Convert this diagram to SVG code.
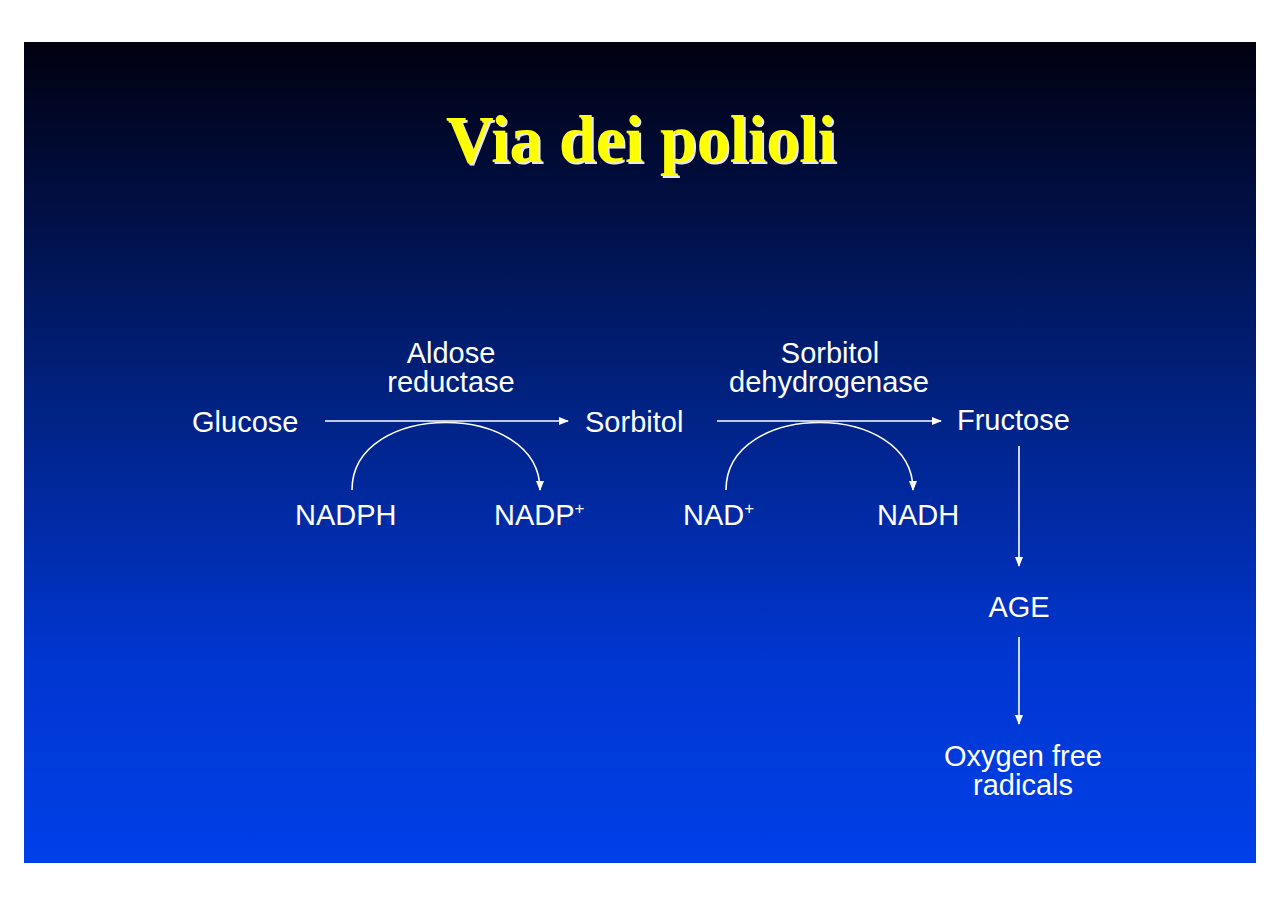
<svg xmlns="http://www.w3.org/2000/svg" width="1280" height="905" viewBox="0 0 1280 905">
<defs>
<linearGradient id="bg" x1="0" y1="0" x2="0" y2="1">
<stop offset="0" stop-color="#000010"/>
<stop offset="0.4" stop-color="#001f78"/>
<stop offset="0.75" stop-color="#0036d0"/>
<stop offset="1" stop-color="#0040e8"/>
</linearGradient>
<marker id="ah" markerWidth="10" markerHeight="8" refX="9" refY="4" orient="auto" markerUnits="userSpaceOnUse">
<path d="M0,0 L10,4 L0,8 Z" fill="#fff"/>
</marker>
<style>
.t{font-family:"Liberation Sans",Arial,sans-serif;font-size:29px;fill:#fff}
.c{text-anchor:middle}
.ln{stroke:#fff;stroke-width:1.6;fill:none;marker-end:url(#ah)}
.ti{font-family:"Liberation Serif","Times New Roman",serif;font-weight:bold;font-size:68px;text-anchor:middle}
</style>
</defs>
<rect width="1280" height="905" fill="#fff"/>
<rect x="24" y="42" width="1232" height="821" fill="url(#bg)"/>
<g id="title">
<text class="ti" x="643" y="164" fill="#e8e8f0" textLength="390" lengthAdjust="spacingAndGlyphs">Via dei polioli</text>
<text class="ti" x="641" y="162" fill="#ffff00" textLength="390" lengthAdjust="spacingAndGlyphs">Via dei polioli</text>
</g>
<g id="connectors">
<path class="ln" d="M325,421 H568"/>
<path class="ln" d="M352,490 C352,400 540,400 540,490"/>
<path class="ln" d="M717,421 H941"/>
<path class="ln" d="M726,490 C726,400 913,400 913,490"/>
<path class="ln" d="M1019,446 V566"/>
<path class="ln" d="M1019,637 V724"/>
</g>
<g id="enzyme1"><text class="t c" x="451" y="363">Aldose</text><text class="t c" x="451" y="392">reductase</text></g>
<g id="enzyme2"><text class="t c" x="830" y="363">Sorbitol</text><text class="t c" x="829" y="392">dehydrogenase</text></g>
<g id="glucose"><text class="t" x="192" y="432">Glucose</text></g>
<g id="sorbitol"><text class="t" x="585" y="432">Sorbitol</text></g>
<g id="fructose"><text class="t" x="957" y="430">Fructose</text></g>
<g id="nadph"><text class="t" x="295" y="525">NADPH</text></g>
<g id="nadp"><text class="t" x="494" y="525">NADP<tspan font-size="17" dy="-11">+</tspan></text></g>
<g id="nad"><text class="t" x="683" y="525">NAD<tspan font-size="17" dy="-11">+</tspan></text></g>
<g id="nadh"><text class="t" x="877" y="525">NADH</text></g>
<g id="age"><text class="t c" x="1019" y="617">AGE</text></g>
<g id="ofr"><text class="t c" x="1023" y="766">Oxygen free</text><text class="t c" x="1023" y="795">radicals</text></g>
</svg>
